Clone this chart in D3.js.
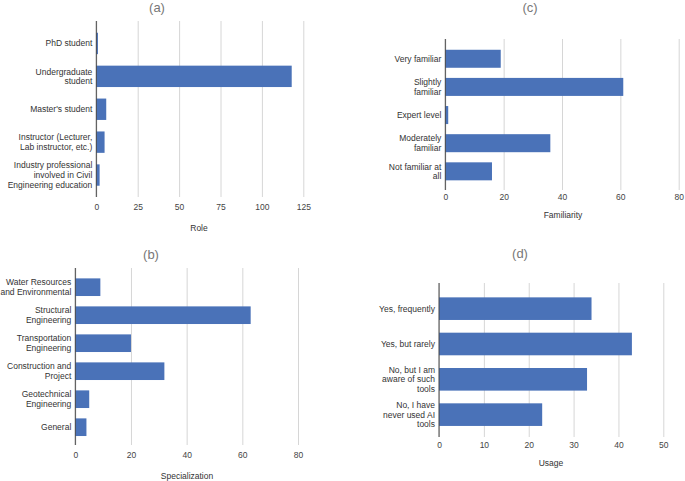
<!DOCTYPE html>
<html>
<head>
<meta charset="utf-8">
<script src="https://cdn.jsdelivr.net/npm/d3@7"></script>
<style>
  body { margin: 0; background: #fff; }
  text { font-family: "Liberation Sans", Arial, sans-serif; }
</style>
</head>
<body>
<div id="chart"></div>
<script>
// (a) Role
var roleCats = ["PhD student", "Undergraduate\nstudent", "Master's student",
  "Instructor (Lecturer,\nLab instructor, etc.)",
  "Industry professional\ninvolved in Civil\nEngineering education"];
var roleVals = [1, 118, 6, 5, 2];
var roleTicks = [0, 25, 50, 75, 100, 125];

// (b) Specialization
var specCats = ["Water Resources\nand Environmental", "Structural\nEngineering",
  "Transportation\nEngineering", "Construction and\nProject",
  "Geotechnical\nEngineering", "General"];
var specVals = [9, 63, 20, 32, 5, 4];
var specTicks = [0, 20, 40, 60, 80];

// (c) Familiarity
var famCats = ["Very familiar", "Slightly\nfamiliar", "Expert level",
  "Moderately\nfamiliar", "Not familiar at\nall"];
var famVals = [19, 61, 1, 36, 16];
var famTicks = [0, 20, 40, 60, 80];

// (d) Usage
var useCats = ["Yes, frequently", "Yes, but rarely",
  "No, but I am\naware of such\ntools", "No, I have\nnever used AI\ntools"];
var useVals = [34, 43, 33, 23];
var useTicks = [0, 10, 20, 30, 40, 50];

var W = 685, H = 481;
var barColor = "#4a72b8";

var svg = d3.select('#chart')
  .append('svg')
    .attr('width', W)
    .attr('height', H);

function panel(cfg) {
  var g = svg.append('g');

  var x = d3.scaleLinear()
    .domain([0, cfg.max])
    .range([cfg.x0, cfg.x1]);

  var y = d3.scaleBand()
    .domain(cfg.cats)
    .range([cfg.b0, cfg.b1])
    .paddingInner(cfg.pad)
    .paddingOuter(cfg.pad / 2);

  // gridlines
  g.append('g')
    .attr('transform', 'translate(0,' + cfg.g1 + ')')
    .call(d3.axisBottom(x).tickValues(cfg.ticks).tickSize(-(cfg.g1 - cfg.g0)).tickFormat(''))
    .call(function(a) {
      a.select('.domain').remove();
      a.selectAll('line').attr('stroke', '#d6d6d6').attr('stroke-width', 1);
    });

  // bars
  g.selectAll('rect.bar')
    .data(cfg.vals)
    .enter().append('rect')
      .attr('class', 'bar')
      .attr('x', x(0))
      .attr('y', function(d, i) { return y(cfg.cats[i]); })
      .attr('width', function(d) { return x(d) - x(0); })
      .attr('height', y.bandwidth())
      .attr('fill', barColor);

  // zero axis line
  g.append('line')
    .attr('x1', x(0)).attr('x2', x(0))
    .attr('y1', cfg.g0).attr('y2', cfg.g1)
    .attr('stroke', '#444')
    .attr('stroke-width', 1);

  // tick labels
  g.append('g')
    .attr('transform', 'translate(0,' + cfg.tickY + ')')
    .call(d3.axisBottom(x).tickValues(cfg.ticks).tickSize(0).tickPadding(0))
    .call(function(a) {
      a.select('.domain').remove();
      a.selectAll('text')
        .attr('fill', '#444')
        .attr('dy', '0.35em')
        .style('font-size', '8.5px')
        .style('font-family', '"Liberation Sans", Arial, sans-serif');
    });

  // category labels
  cfg.cats.forEach(function(c) {
    var lines = c.split('\n');
    var cy = y(c) + y.bandwidth() / 2;
    var lh = 9.6;
    var t = g.append('text')
      .attr('text-anchor', 'end')
      .attr('fill', '#333')
      .style('font-size', '8.5px');
    lines.forEach(function(l, i) {
      t.append('tspan')
        .attr('x', x(0) - 4)
        .attr('y', cy + (i - (lines.length - 1) / 2) * lh)
        .attr('dy', '0.35em')
        .text(l);
    });
  });

  // axis title
  g.append('text')
    .attr('x', cfg.axisX)
    .attr('y', cfg.axisY)
    .attr('dy', '0.35em')
    .attr('text-anchor', 'middle')
    .attr('fill', '#333')
    .style('font-size', '8.5px')
    .text(cfg.axisTitle);

  // panel title
  g.append('text')
    .attr('x', cfg.titleX)
    .attr('y', cfg.titleY)
    .attr('dy', '0.35em')
    .attr('text-anchor', 'middle')
    .attr('fill', '#777')
    .style('font-size', '13px')
    .text(cfg.title);
}

panel({cats: roleCats, vals: roleVals, ticks: roleTicks, max: 125,
  x0: 96.3, x1: 303.3, b0: 27, b1: 191.5, pad: 0.35, g0: 21, g1: 197,
  tickY: 207, axisTitle: 'Role', axisX: 199, axisY: 228,
  title: '(a)', titleX: 157, titleY: 7});

panel({cats: famCats, vals: famVals, ticks: famTicks, max: 80,
  x0: 445.3, x1: 678.7, b0: 44.7, b1: 185.4, pad: 0.36, g0: 39, g1: 190,
  tickY: 197, axisTitle: 'Familiarity', axisX: 563, axisY: 215,
  title: '(c)', titleX: 530, titleY: 7});

panel({cats: specCats, vals: specVals, ticks: specTicks, max: 80,
  x0: 75.3, x1: 298, b0: 273.2, b1: 441.2, pad: 0.37, g0: 268, g1: 445,
  tickY: 455, axisTitle: 'Specialization', axisX: 187, axisY: 476.5,
  title: '(b)', titleX: 151, titleY: 254});

panel({cats: useCats, vals: useVals, ticks: useTicks, max: 50,
  x0: 439, x1: 663.3, b0: 291, b1: 432.3, pad: 0.36, g0: 283, g1: 437,
  tickY: 445, axisTitle: 'Usage', axisX: 551, axisY: 463,
  title: '(d)', titleX: 520, titleY: 253});
</script>
</body>
</html>
